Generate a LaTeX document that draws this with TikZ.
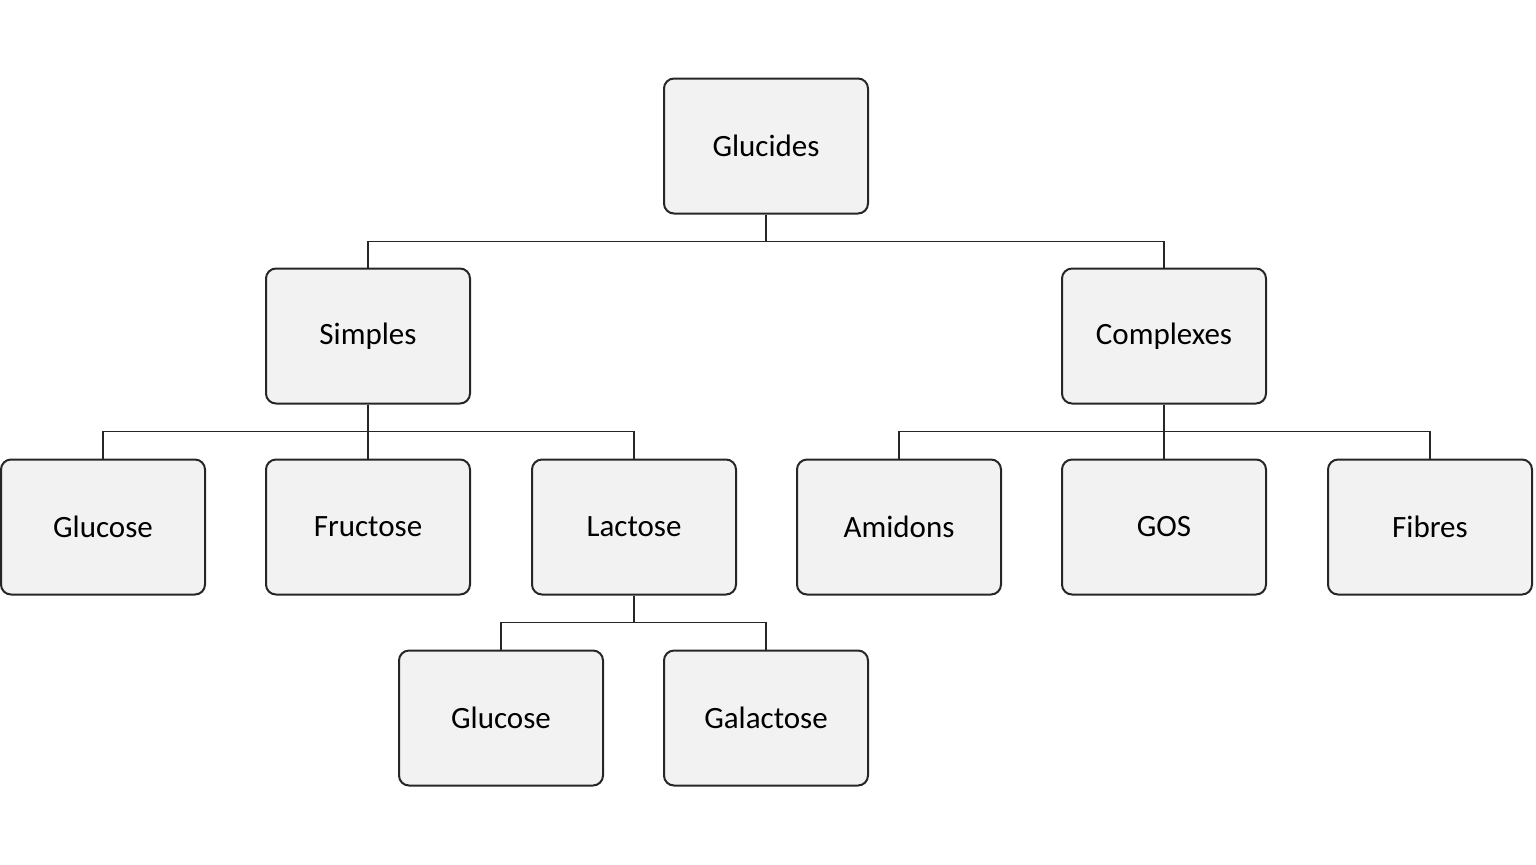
\documentclass[tikz,border=0pt]{standalone}
\usepackage{fontspec}
\setmainfont{Carlito}
\begin{document}
\begin{tikzpicture}[x=0.5pt,y=-0.5pt,
  box/.style={draw=black!85,line width=1pt,fill={rgb,255:red,242;green,242;blue,242},rounded corners=5pt,minimum width=102pt,minimum height=67.5pt,inner sep=0pt,font=\fontsize{15.5}{18}\selectfont},
  link/.style={draw=black!85,line width=0.9pt}]
\useasboundingbox (0,0) rectangle (1536,864);
\node[box] (gl) at (766,146) {Glucides};
\node[box] (si) at (368,336) {Simples};
\node[box] (co) at (1164,336) {Complexes};
\node[box] (g1) at (103,527) {Glucose};
\node[box] (fr) at (368,527) {Fructose};
\node[box] (la) at (634,527) {Lactose};
\node[box] (am) at (899,527) {Amidons};
\node[box] (go) at (1164,527) {GOS};
\node[box] (fi) at (1430,527) {Fibres};
\node[box] (g2) at (501,718) {Glucose};
\node[box] (ga) at (766,718) {Galactose};
\foreach \p/\c in {gl/si,gl/co,si/g1,si/fr,si/la,co/am,co/go,co/fi,la/g2,la/ga}
  \draw[link] (\p.south) -- ++(0,27) -| (\c.north);
\end{tikzpicture}
\end{document}
